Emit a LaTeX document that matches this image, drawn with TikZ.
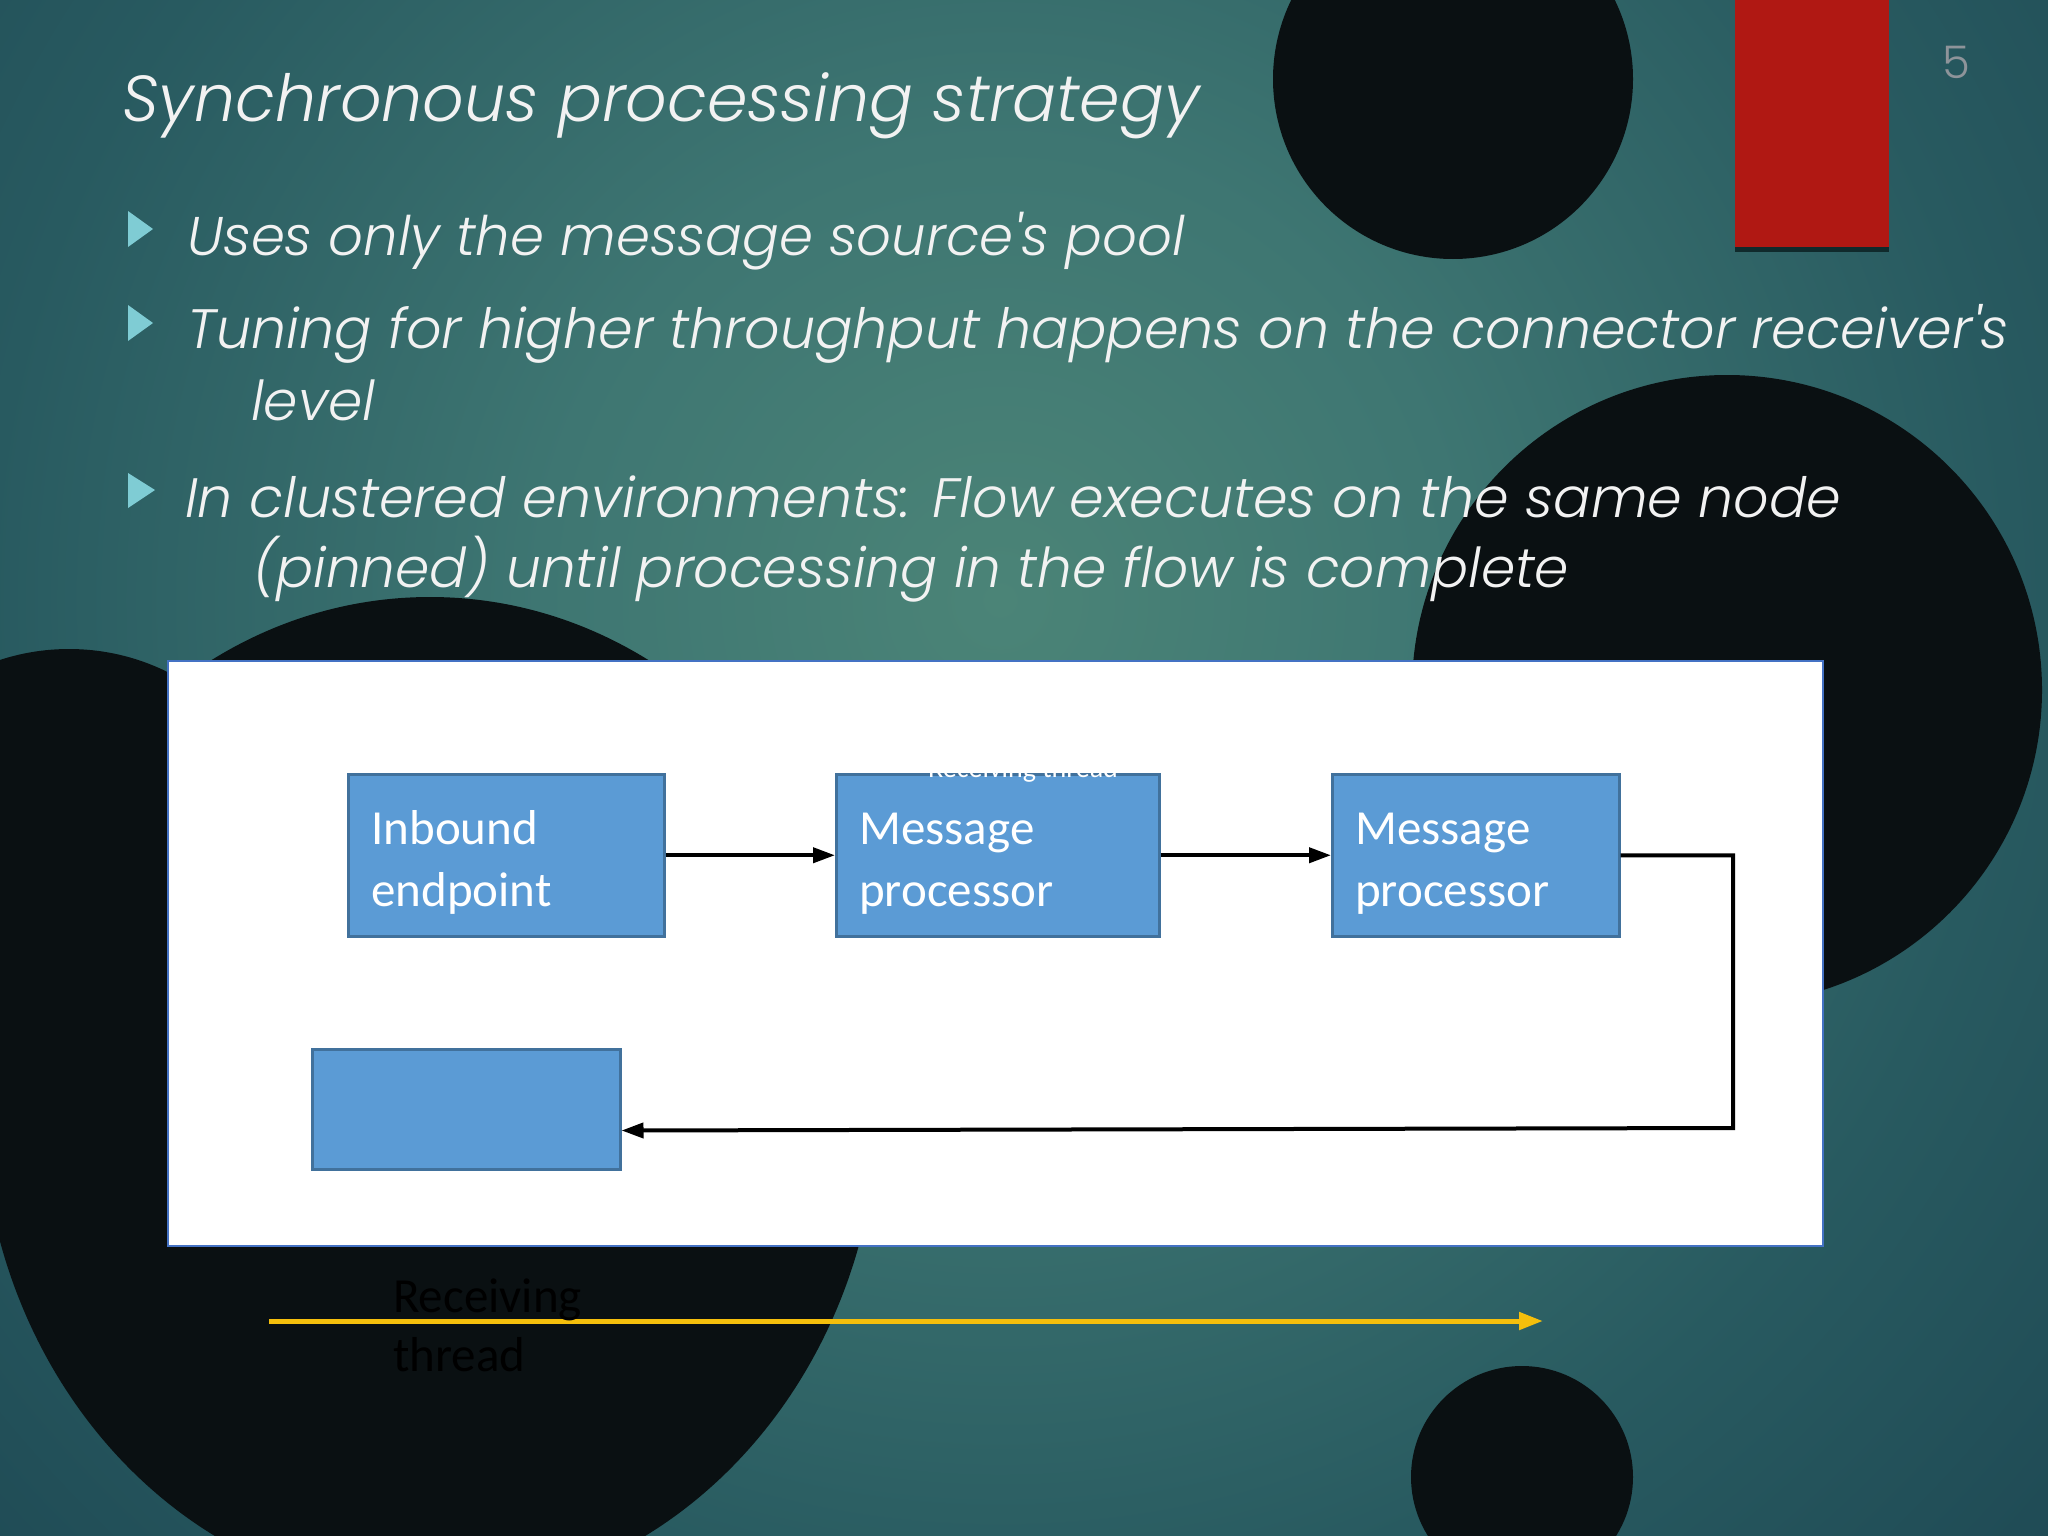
\documentclass[tikz,border=0pt]{standalone}
\usepackage{fontspec}
\usetikzlibrary{arrows.meta,calc}
\newfontfamily\carlito{Carlito}
\newfontfamily\gothicfam{Poppins}[UprightFont=* Light, ItalicFont=* Light Italic]
\definecolor{bgin}{HTML}{4B8477}
\definecolor{bgmidA}{HTML}{3E7672}
\definecolor{bgmidB}{HTML}{285A60}
\definecolor{bgmidC}{HTML}{1C4551}
\definecolor{bgout}{HTML}{153A4A}
\definecolor{orb}{HTML}{0A1012}
\definecolor{slidered}{HTML}{B01813}
\definecolor{redshadow}{HTML}{102A2C}
\definecolor{bulletc}{HTML}{7FCCD4}
\definecolor{boxfill}{HTML}{5B9BD5}
\definecolor{boxline}{HTML}{41719C}
\definecolor{frameline}{HTML}{4472C4}
\definecolor{threadc}{HTML}{F5BF0C}
\definecolor{pagenum}{HTML}{8E949A}
\definecolor{darktext}{HTML}{000000}
\definecolor{titlec}{HTML}{F2F2F2}
\pgfdeclareradialshading{slidebg}{\pgfpoint{0bp}{0bp}}{color(0bp)=(bgin); color(5bp)=(bgmidA); color(11bp)=(bgmidB); color(17bp)=(bgmidC); color(23bp)=(bgout); color(50bp)=(bgout)}
\tikzset{
  proc/.style={draw=boxline, fill=boxfill, line width=2.5pt, inner xsep=23pt, inner ysep=0pt,
    align=left, text=white, font=\carlito\fontsize{49}{62}\selectfont, anchor=north west},
  conn/.style={line width=4pt, -{Triangle[length=22pt,width=15pt]}},
  slidetext/.style={anchor=base west, inner sep=0pt, text=titlec, font=\gothicfam\itshape\fontsize{55}{66}\selectfont},
  plaintext/.style={anchor=base west, inner sep=0pt}
}
\begin{document}
\begin{tikzpicture}[x=1pt,y=-1pt]
\useasboundingbox (0,0) rectangle (2048,1536);
\begin{scope}
\clip (0,0) rectangle (2048,1536);
\fill[bgout] (0,0) rectangle (2048,1536);
\shade[shading=slidebg] (-1300,-1700) rectangle (3300,2900);
\fill[orb] (1453,79) circle[radius=180pt];
\fill[orb] (1727,690) circle[radius=315pt];
\fill[orb] (1522,1477) circle[radius=111pt];
\fill[orb] (69,871) circle[radius=222pt];
\fill[orb] (430,1097) ellipse[x radius=449pt, y radius=500pt];
\end{scope}
% red tab
\fill[slidered] (1735,0) rectangle (1889,247);
\fill[redshadow] (1735,247) rectangle (1889,252);
\node[plaintext, text=pagenum, font=\gothicfam\fontsize{45}{54}\selectfont] (pg) at (1942,79) {5};
% title and bullets
\node[slidetext, font=\gothicfam\itshape\fontsize{65}{78}\selectfont] (title) at (122,122) {Synchronous processing strategy};
\fill[bulletc] (128,211) -- (153,229) -- (128,247) -- cycle;
\fill[bulletc] (128,305) -- (153,323) -- (128,341) -- cycle;
\fill[bulletc] (128,473) -- (155,490) -- (128,508) -- cycle;
\node[slidetext, font=\gothicfam\itshape\fontsize{54.5}{66}\selectfont] (b1) at (187,255) {Uses only the message source's pool};
\node[slidetext, font=\gothicfam\itshape\fontsize{55.5}{66}\selectfont] (b2a) at (187,348) {Tuning for higher throughput happens on the connector receiver's};
\node[slidetext] (b2b) at (251,420) {level};
\node[slidetext, font=\gothicfam\itshape\fontsize{55.5}{66}\selectfont] (b3a) at (185,517) {In clustered environments: Flow executes on the same node};
\node[slidetext] (b3b) at (253,587) {(pinned) until processing in the flow is complete};
% diagram frame
\draw[frameline, line width=2.5pt, fill=white] (168,661) rectangle (1823,1246);
\node[proc, minimum width=316pt, minimum height=162pt, text width=270pt] (ib) at (347,773)
  {\rule{0pt}{55pt}Inbound\\endpoint\rule[-15pt]{0pt}{0pt}};
\node[proc, minimum width=323pt, minimum height=162pt, text width=277pt] (mp1) at (835,773)
  {\rule{0pt}{55pt}Message\\processor\rule[-15pt]{0pt}{0pt}};
\node[proc, minimum width=287pt, minimum height=162pt, text width=241pt] (mp2) at (1331,773)
  {\rule{0pt}{55pt}Message\\processor\rule[-15pt]{0pt}{0pt}};
\node[proc, minimum width=308pt, minimum height=120pt] (bot) at (311,1048) {};
\node[plaintext, text=white, font=\carlito\fontsize{28}{34}\selectfont] (rtw) at (928,777) {Receiving thread};
\coordinate (loopc) at (1733,1128);
\draw[conn] (ib.east) -- (mp1.west);
\draw[conn] (mp1.east) -- (mp2.west);
\draw[conn] (mp2.east) -| (loopc) -- ($(bot.south east)+(0,-40)$);
% receiving thread arrow
\coordinate (ys) at (269,1321);
\coordinate (ye) at (1543,1321);
\draw[line width=5pt, threadc, -{Triangle[length=24pt,width=17pt]}] (ys) -- (ye);
\node[plaintext, text=darktext, font=\carlito\fontsize{49}{59}\selectfont] (rt1) at (393,1312) {Receiving};
\node[plaintext, text=darktext, font=\carlito\fontsize{49}{59}\selectfont] (rt2) at (393,1371) {thread};
\end{tikzpicture}
\end{document}
